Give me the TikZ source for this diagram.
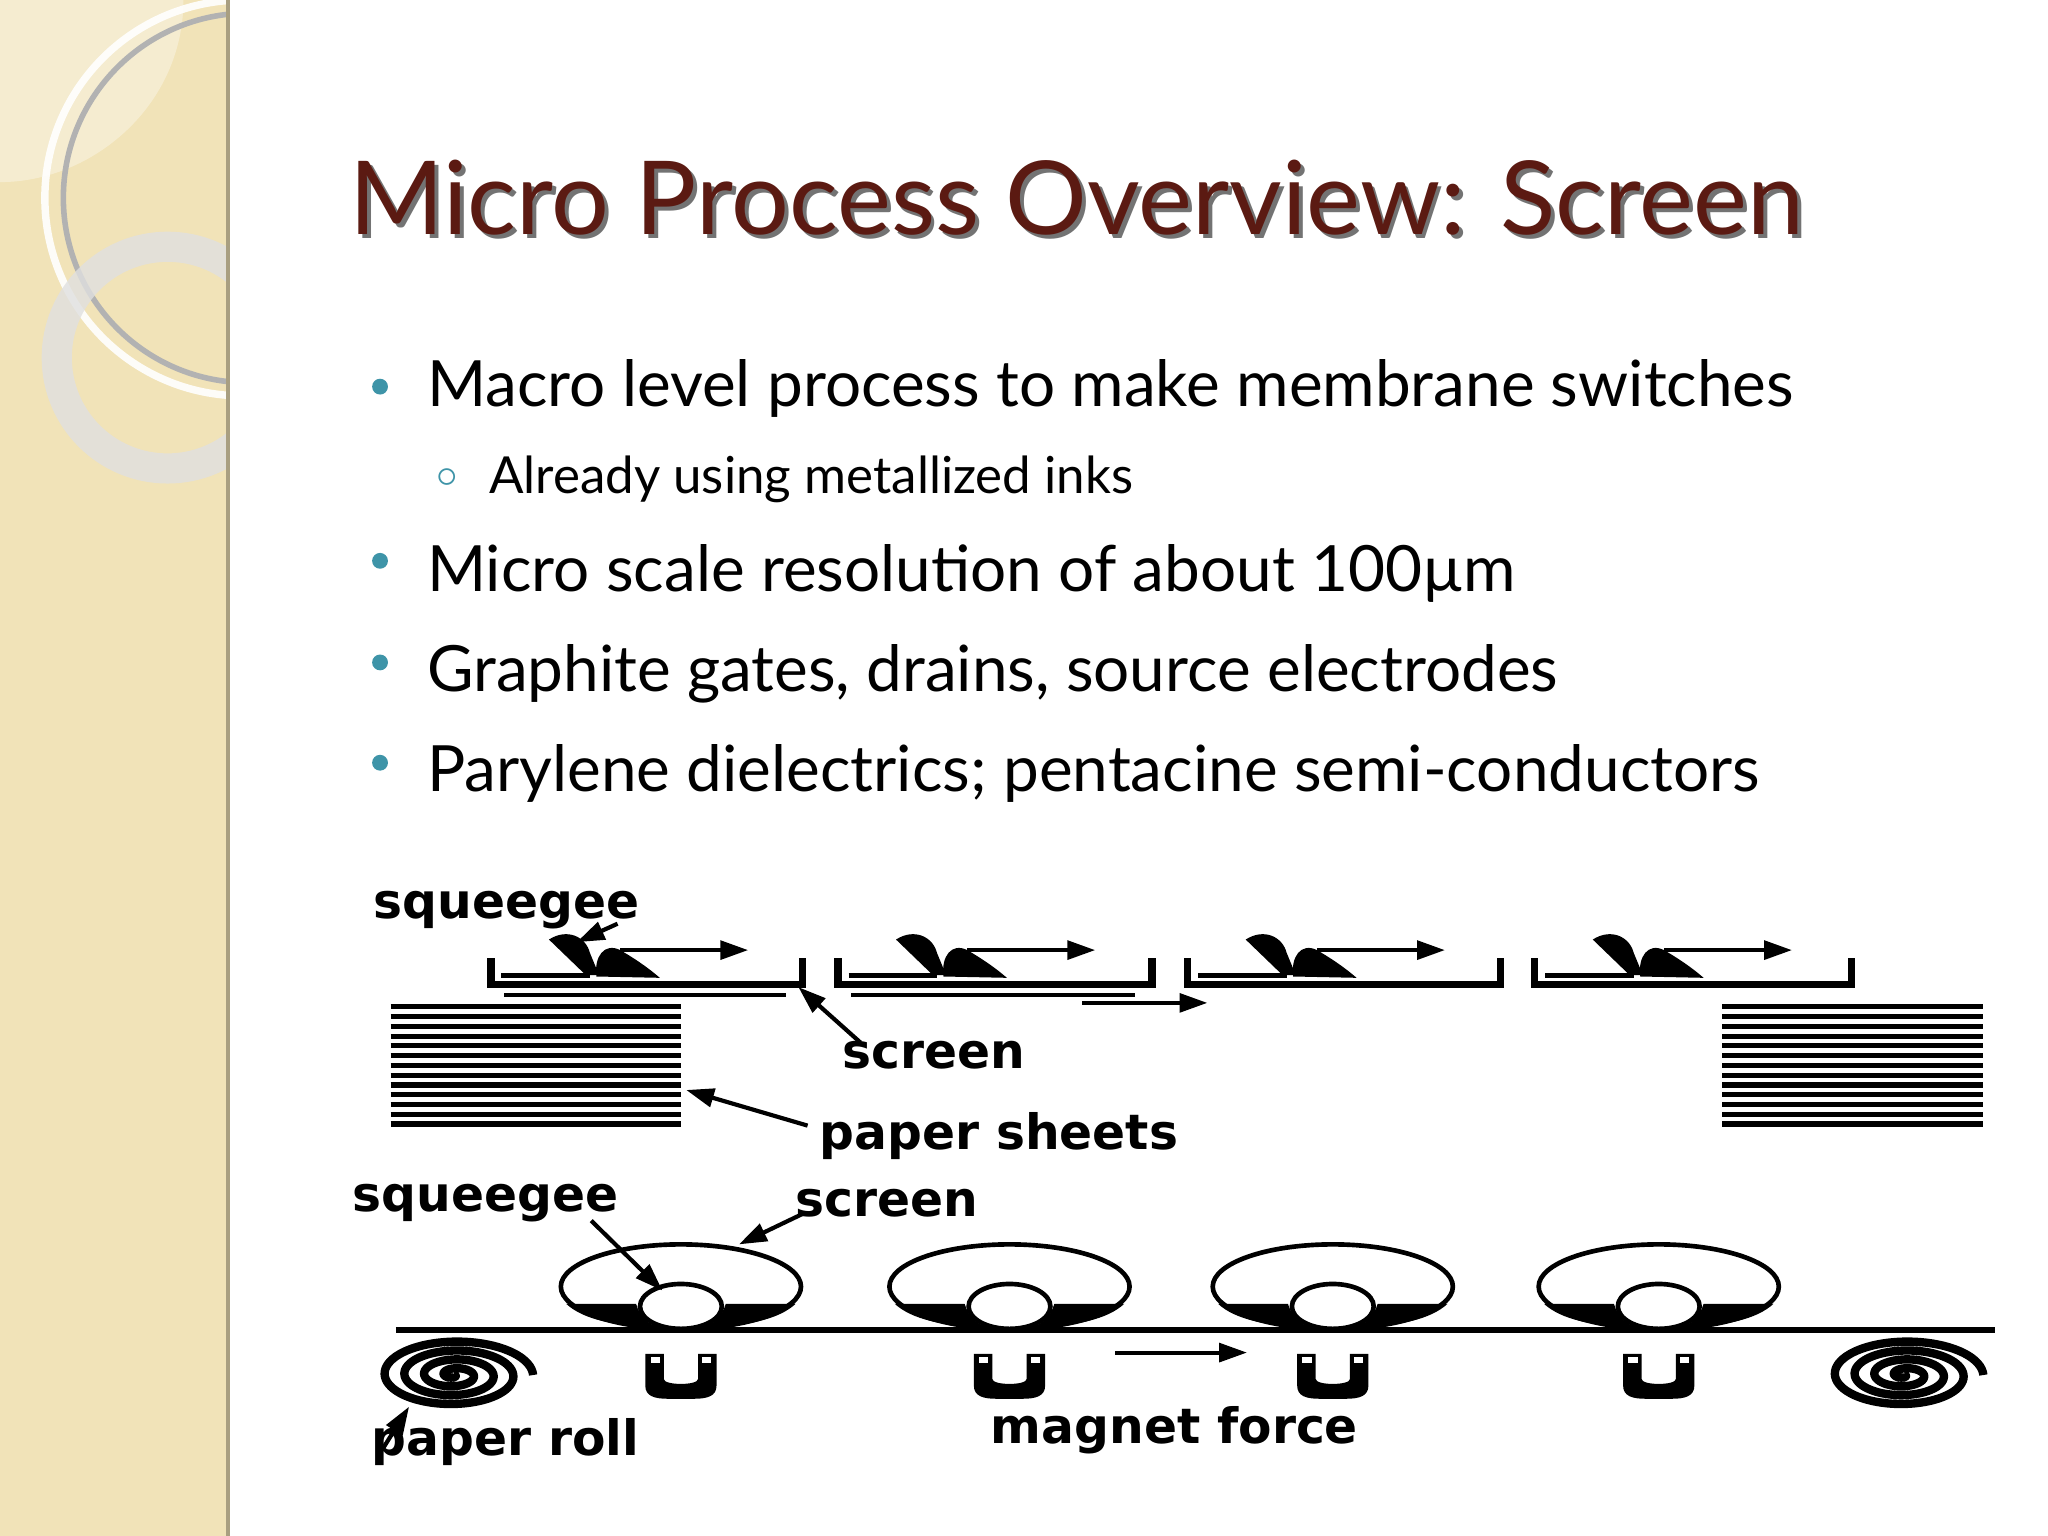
\documentclass[tikz,border=0pt]{standalone}
\usepackage{fontspec}
\setmainfont{Lato}
\newfontfamily\lblfont{DejaVu Sans}
\usetikzlibrary{arrows.meta}
\definecolor{side}{HTML}{F1E3B8}
\definecolor{ttl}{HTML}{5B1A12}
\definecolor{bul}{HTML}{3E94A8}
\tikzset{
 lbl/.style={font=\lblfont\bfseries\fontsize{10.5}{12}\selectfont, inner sep=0pt},
 pt/.style={-{Triangle[length=6pt,width=4pt]}, line width=0.9pt},
 frm/.style={line width=1.6pt},
 sheet/.style={line width=1.1pt},
 bline/.style={font=\fontsize{13.75}{16}\selectfont, anchor=base west, inner sep=0pt},
}
\begin{document}
\begin{tikzpicture}[x=0.01cm,y=-0.01cm]
\useasboundingbox (0,0) rectangle (1552,1164);
\fill[white] (0,0) rectangle (1552,1164);
% sidebar
\fill[side] (0,0) rectangle (173,1164);
\fill[white,opacity=0.35] (0,138) .. controls (70,138) and (139,80) .. (139,0) -- (0,0) -- cycle;
\draw[white,line width=1.6pt,opacity=0.9] (184,150) circle[radius=150];
\draw[black!30,line width=1.2pt] (188,150) circle[radius=140];
\draw[black!12,line width=6.5pt,opacity=0.8] (127,271) circle[radius=84];
\fill[white] (173,0) rectangle (1552,1164);
\draw[side!70!black,line width=0.8pt] (173,0) -- (173,1164);
% title
\node[text=black!55,font=\fontsize{22}{24}\selectfont,anchor=base west,inner sep=0pt] at (267,181) {Micro Process Overview: Screen};
\node[text=ttl,font=\fontsize{22}{24}\selectfont,anchor=base west,inner sep=0pt] (title) at (264,178) {Micro Process Overview: Screen};
% bullets
\foreach \yy in {293,425,502,578} \fill[bul] (288,\yy) circle[radius=6];
\node[bline] (b1) at (323,308) {Macro level process to make membrane switches};
\node[font=\fontsize{9}{10}\selectfont,text=bul] at (339,362) {$\circ$};
\node[bline,font=\fontsize{11}{13}\selectfont] (b2) at (370,374) {Already using metallized inks};
\node[bline] (b3) at (323,448) {Micro scale resolution of about 100µm};
\node[bline] (b4) at (323,524) {Graphite gates, drains, source electrodes};
\node[bline] (b5) at (323,600) {Parylene dielectrics; pentacine semi-conductors};
% ---------- flat screens
\foreach \x/\w [count=\i] in {372/236,635/238,900/237,1163/240}{
  \draw[frm] (\x,726) -- (\x,746) -- (\x+\w,746) -- (\x+\w,726);
  \draw[line width=1pt] (\x+8,739) -- (\x+75,739);
  \fill (\x+44,712) .. controls (\x+58,703) and (\x+72,710) .. (\x+75,722) -- (\x+82,739) -- (\x+72,739) -- cycle;
  \fill (\x+80,740) .. controls (\x+78,725) and (\x+86,714) .. (\x+98,720) .. controls (\x+110,727) and (\x+120,734) .. (\x+128,741) -- cycle;
  \draw[pt] (\x+98,720) -- (\x+195,720);
}
\draw[line width=0.8pt] (382,754) -- (596,754);
\draw[line width=0.8pt] (645,754) -- (860,754);
\draw[pt] (820,760) -- (915,760);
\foreach \k in {0,...,12}{
  \draw[sheet] (296,763+\k*7.4) -- (516,763+\k*7.4);
  \draw[sheet] (1305,763+\k*7.4) -- (1503,763+\k*7.4);
}
\node[lbl] (sq1) at (384,690) {squeegee};
\node[lbl] (scr1) at (708,800) {screen};
\node[lbl] (ps) at (757,861) {paper sheets};
\coordinate (sqtip) at (437,714);
\coordinate (scrtip) at (605,748);
\coordinate (pstip) at (520,826);
\draw[pt] (468,700) -- (sqtip);
\draw[pt] (652,790) -- (scrtip);
\draw[pt] (612,853) -- (pstip);
% ---------- rotary screens
\draw[line width=1.3pt] (300,1008) -- (1512,1008);
\foreach \cx [count=\i] in {516,765,1010,1257}{
  \draw[line width=1pt] (\cx,975) ellipse[x radius=91,y radius=32];
  \fill (\cx-87,988) -- (\cx-34,988) .. controls (\cx-31,998) and (\cx-25,1004) .. (\cx-15,1006) .. controls (\cx-50,1005) and (\cx-74,1000) .. cycle;
  \fill (\cx+87,988) -- (\cx+34,988) .. controls (\cx+31,998) and (\cx+25,1004) .. (\cx+15,1006) .. controls (\cx+50,1005) and (\cx+74,1000) .. cycle;
  \draw[line width=1pt,fill=white] (\cx,990) ellipse[x radius=31,y radius=17];
  % magnet
  \fill (\cx-27,1026) -- (\cx-13,1026) -- (\cx-13,1045) .. controls (\cx-13,1050) and (\cx+13,1050) .. (\cx+13,1045) -- (\cx+13,1026) -- (\cx+27,1026) -- (\cx+27,1050) .. controls (\cx+27,1058) and (\cx+20,1060) .. (\cx+10,1060) -- (\cx-10,1060) .. controls (\cx-20,1060) and (\cx-27,1058) .. (\cx-27,1050) -- cycle;
  \fill[white] (\cx-23,1028) rectangle (\cx-16,1033);
  \fill[white] (\cx+16,1028) rectangle (\cx+23,1033);
}
\draw[pt] (845,1025) -- (945,1025);
\foreach \sx in {344,1443}{
  \draw[line width=1.8pt] plot[domain=0:1440,samples=300,smooth] ({\sx+(\x/1440)*60*cos(\x)},{1042+(\x/1440)*27*sin(\x)});
}
\node[lbl] (sq2) at (368,912) {squeegee};
\node[lbl] (scr2) at (672,912) {screen};
\node[lbl] (mf) at (890,1084) {magnet force};
\node[lbl] (pr) at (383,1093) {paper roll};
\coordinate (sq2tip) at (502,978);
\coordinate (scr2tip) at (560,943);
\coordinate (prtip) at (310,1066);
\draw[pt] (448,925) -- (sq2tip);
\draw[pt] (608,920) -- (scr2tip);
\draw[pt] (290,1098) -- (prtip);
\end{tikzpicture}
\end{document}
